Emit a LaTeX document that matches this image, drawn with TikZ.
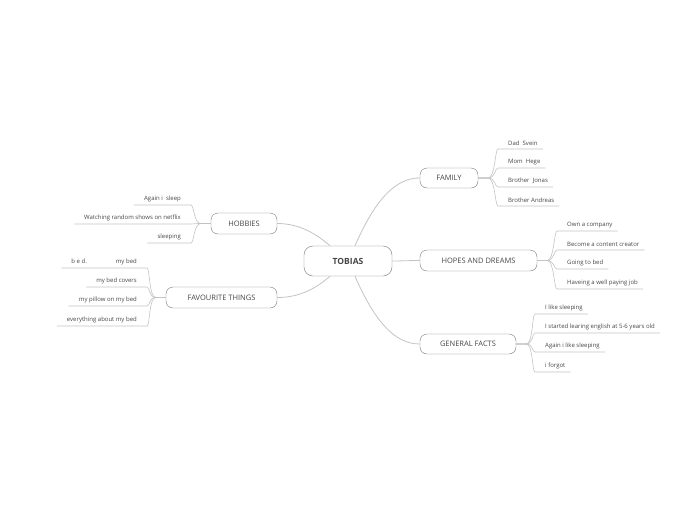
\documentclass[tikz,border=0pt]{standalone}
\usepackage{fontspec}
\setmainfont{Open Sans}
\usetikzlibrary{calc}
\definecolor{linegray}{RGB}{195,195,195}
\definecolor{boxgray}{RGB}{120,120,120}
\definecolor{textgray}{RGB}{70,70,70}
\begin{document}
\begin{tikzpicture}[x=1pt,y=-1pt,
    topic/.style={draw=boxgray, rounded corners=7pt, text=textgray, font=\fontsize{7.5}{9}\selectfont, inner sep=0pt},
    leaf/.style={text=textgray, font=\fontsize{6}{7}\selectfont, inner sep=0pt},
    conn/.style={draw=linegray, line width=0.8pt},
    fork/.style={draw=linegray, line width=0.6pt}]
\useasboundingbox (0,0) rectangle (697,520);

% main topic and branches
\node[topic, minimum width=88pt, minimum height=30pt, font=\bfseries\fontsize{8.5}{10}\selectfont, rounded corners=9pt] (tobias) at (348,261) {TOBIAS};
\node[topic, minimum width=58pt, minimum height=20pt] (family) at (449,178) {FAMILY};
\node[topic, minimum width=117pt, minimum height=21pt] (hopes) at (478.5,260.5) {HOPES AND DREAMS};
\node[topic, minimum width=96pt, minimum height=20pt] (facts) at (468,344) {GENERAL FACTS};
\node[topic, minimum width=66pt, minimum height=21pt] (hobbies) at (244,223.5) {HOBBIES};
\node[topic, minimum width=111pt, minimum height=21pt] (fav) at (221.5,297.5) {FAVOURITE THINGS};

\draw[conn] ([xshift=7pt]tobias.north) .. controls (375,200) and (395,178) .. (family.west);
\draw[conn] (tobias.east) .. controls (400,261) and (410,260.5) .. (hopes.west);
\draw[conn] ([xshift=7pt]tobias.south) .. controls (375,322) and (395,344) .. (facts.west);
\draw[conn] ([xshift=-18pt]tobias.north) .. controls (312,230) and (295,223.5) .. (hobbies.east);
\draw[conn] ([xshift=-18pt]tobias.south) .. controls (312,292) and (295,297.5) .. (fav.east);

% leaves on the right
\foreach \br/\lx/\lst in {family/498/{149/Dad\ \ Svein, 168/Mom\ \ Hege, 187/Brother\ \ Jonas, 206/Brother Andreas},
    hopes/557/{231/Own a company, 250/Become a content creator, 269/Going to bed, 289/Haveing a well paying job},
    facts/535/{314/I like sleeping, 333/I started learing english at 5-6 years old, 352/Again i like sleeping, 372/i forgot}}{
  \foreach \y/\txt [count=\i] in \lst {
    \node[leaf, anchor=south west] (\br\i) at (\lx+10,\y-3) {\txt};
    \draw[fork] (\br.east) -- ++(10,0) .. controls +(7,0) and (\lx-3,\y) .. (\lx,\y) -- ($(\br\i.south east)+(5,3)$);
  }
}

% leaves on the left
\foreach \br/\lx/\lst in {hobbies/191/{205/Again\ i\ \ sleep, 224/Watching random shows on netflix, 243/sleeping},
    fav/147/{268/b e d.\hspace{29pt}my bed, 287/my bed covers, 306/my pillow on my bed, 326/everything about my bed}}{
  \foreach \y/\txt [count=\i] in \lst {
    \node[leaf, anchor=south east] (\br\i) at (\lx-10,\y-3) {\txt};
    \draw[fork] (\br.west) -- ++(-10,0) .. controls +(-7,0) and (\lx+3,\y) .. (\lx,\y) -- ($(\br\i.south west)+(-10,3)$);
  }
}
\end{tikzpicture}
\end{document}
